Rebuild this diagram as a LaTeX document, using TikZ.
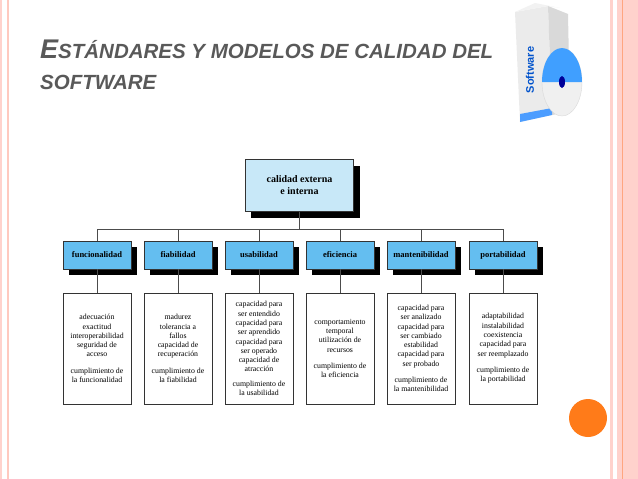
\documentclass[tikz,border=0pt]{standalone}
\usepackage{fontspec}
\setmainfont{Liberation Serif}
\newfontfamily\titlefont{Liberation Sans}
\definecolor{topc}{RGB}{200,232,248}
\definecolor{midc}{RGB}{100,190,240}
\begin{document}
\begin{tikzpicture}[x=1pt,y=-1pt,
  sh/.style={fill=black},
  topbox/.style={draw=black!80,fill=topc,line width=0.8pt,minimum width=108pt,minimum height=52pt,align=center,font=\bfseries\fontsize{10}{12}\selectfont},
  midbox/.style={draw=black!80,fill=midc,line width=0.8pt,minimum width=68pt,minimum height=28pt,inner sep=0pt,align=center,font=\bfseries\fontsize{8.5}{9}\selectfont},
  lowbox/.style={draw=black!80,fill=white,line width=0.9pt,minimum width=68pt,minimum height=111pt,inner sep=0pt,align=center,font=\fontsize{7.8}{9.3}\selectfont},
  conn/.style={draw=black!70,line width=0.6pt}]
\useasboundingbox (0,0) rectangle (638,479);
% page edge decoration
\fill[orange!25!red!20] (0,0) rectangle (2,479);
\draw[orange!30!red!25,line width=1.2pt] (8,0) -- (8,479);
\fill[orange!25!red!20] (610,0) rectangle (613,479);
\fill[orange!25!red!20] (617,0) rectangle (638,479);
\draw[orange!60!red!50,line width=0.6pt] (622,0) -- (622,479);
% title
\node[anchor=base west,inner sep=0,text=black!65,font=\titlefont\bfseries\itshape] (t1) at (40,58)
  {{\fontsize{27}{29}\selectfont E}{\fontsize{20.5}{22}\selectfont STÁNDARES Y MODELOS DE CALIDAD DEL}};
\node[anchor=base west,inner sep=0,text=black!65,font=\titlefont\bfseries\itshape\fontsize{20.5}{22}\selectfont] (t2) at (40,89) {SOFTWARE};
% software package
\fill[black!8] (515,12) -- (548,6) -- (552,115) -- (520,122) -- cycle;
\fill[black!15] (548,6) -- (568,14) -- (570,112) -- (552,115) -- cycle;
\fill[black!5] (515,12) -- (535,3) -- (560,8) -- (548,6) -- cycle;
\node[rotate=90,text=blue!60!cyan!80!black,font=\titlefont\bfseries\fontsize{11}{11}\selectfont] (sw) at (530,70) {Software};
\fill[blue!55!cyan!70] (520,122) -- (552,115) -- (552,108) -- (520,114) -- cycle;
\fill[black!6,draw=black!15] (562,82) ellipse (20 and 34);
\fill[blue!50!cyan!75] (542,82) arc[start angle=180,end angle=360,x radius=20,y radius=34] -- cycle;
\fill[blue!60!black] (562,82) ellipse (3 and 6);
% orange dot
\fill[orange!85!red!90] (588,418) circle (19);
% diagram
\fill[sh] (251,166) rectangle (360,218);
\node[topbox] (top) at (299.5,185.5) {calidad externa\\e interna};
\coordinate (bus) at (0,229);
\foreach \n/\x/\h/\l in {
 f/97/funcionalidad/{adecuación\\exactitud\\interoperabilidad\\seguridad de\\acceso\\[7pt]cumplimiento de\\la funcionalidad},
 b/178/fiabilidad/{madurez\\tolerancia a\\fallos\\capacidad de\\recuperación\\[7pt]cumplimiento de\\la fiabilidad},
 u/259/usabilidad/{capacidad para\\ser entendido\\capacidad para\\ser aprendido\\capacidad para\\ser operado\\capacidad de\\atracción\\[5pt]cumplimiento de\\la usabilidad},
 e/340/eficiencia/{comportamiento\\temporal\\utilización de\\recursos\\[7pt]cumplimiento de\\la eficiencia},
 m/421/mantenibilidad/{capacidad para\\ser analizado\\capacidad para\\ser cambiado\\estabilidad\\capacidad para\\ser probado\\[7pt]cumplimiento de\\la mantenibilidad},
 p/503/portabilidad/{adaptabilidad\\instalabilidad\\coexistencia\\capacidad para\\ser reemplazado\\[7pt]cumplimiento de\\la portabilidad}}{
  \fill[sh] (\x-28,247) rectangle (\x+40,275);
  \node[midbox] (h\n) at (\x,255) {\h};
  \node[lowbox] (l\n) at (\x,348.5) {\l};
  \draw[conn] (h\n.north) -- (h\n.north |- bus);
  \draw[conn] (h\n.south) -- (l\n.north);
}
\draw[conn] (top.south) -- (top.south |- bus);
\draw[conn] (hf.north |- bus) -- (hp.north |- bus);
\end{tikzpicture}
\end{document}
